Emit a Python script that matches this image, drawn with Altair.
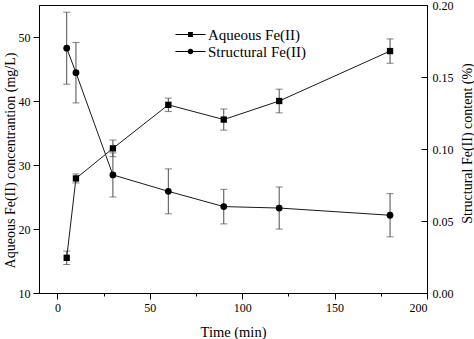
import altair as alt
import pandas as pd

# ---- data ----
time = [5, 10, 30, 60, 90, 120, 180]
aqueous = [15.5, 27.9, 32.6, 39.4, 37.1, 40.0, 47.8]
aqueous_err = [1.05, 0.7, 1.3, 1.05, 1.65, 1.85, 1.9]
structural = [0.170, 0.153, 0.082, 0.0706, 0.060, 0.059, 0.054]
structural_err = [0.025, 0.021, 0.0153, 0.0156, 0.012, 0.0146, 0.015]
series = ["Aqueous Fe(II)", "Structural Fe(II)"]

x_ticks = [0, 25, 50, 75, 100, 125, 150, 175, 200]
left_ticks = [10, 15, 20, 25, 30, 35, 40, 45, 50, 55]
right_ticks = [0, 0.025, 0.05, 0.075, 0.1, 0.125, 0.15, 0.175, 0.2]

df = pd.DataFrame({"t": time, "aq": aqueous, "aq_e": aqueous_err,
                   "st": structural, "st_e": structural_err})
df["aq_lo"] = df["aq"] - df["aq_e"]
df["aq_hi"] = df["aq"] + df["aq_e"]
df["st_lo"] = df["st"] - df["st_e"]
df["st_hi"] = df["st"] + df["st_e"]

leg_df = pd.DataFrame({"series": series, "t": [time[0]] * 2, "aq": [aqueous[0]] * 2})

FONT = "Liberation Serif"
LINE = "#1a1a1a"
ERR = "#4d4d4d"

# legend glyphs: thin bar (line) + marker, all as filled areas
sq_path = "M-3.75,-0.13H3.75V0.13H-3.75Z M-0.6,-0.6H0.6V0.6H-0.6Z"
ci_path = "M-3.75,-0.13H3.75V0.13H-3.75Z M-0.7,0A0.7,0.7,0,1,1,0.7,0A0.7,0.7,0,1,1,-0.7,0Z"

X = alt.X("t:Q", scale=alt.Scale(domain=[-10, 200], nice=False, zero=False),
          axis=alt.Axis(values=x_ticks, title="Time (min)", titleFontWeight="normal",
                        labelExpr="datum.value % 50 === 0 ? datum.label : ''",
                        tickSize={"condition": {"test": "datum.value % 50 === 0", "value": 6}, "value": 3},
                        labelPadding=3, titlePadding=12))

lscale = alt.Scale(domain=[10, 55], nice=False, zero=False)
laxis = alt.Axis(values=left_ticks, title="Aqueous Fe(II) concentrantion (mg/L)",
                 labelExpr="datum.value % 10 === 0 ? datum.label : ''",
                 tickSize={"condition": {"test": "datum.value % 10 === 0", "value": 6}, "value": 3},
                 labelPadding=3, titlePadding=1, titleY=155)

rscale = alt.Scale(domain=[0, 0.2], nice=False, zero=False)
rtest = "abs(datum.value * 20 - round(datum.value * 20)) < 0.000001"
raxis = alt.Axis(values=right_ticks, title="Structural Fe(II) content (%)", orient="right",
                 format=".2f", labelExpr=rtest + " ? datum.label : ''",
                 tickSize={"condition": {"test": rtest, "value": -6}, "value": -2.5},
                 labelPadding=11, titlePadding=21, titleAngle=270, titleY=138)

base = alt.Chart(df)

left = alt.layer(
    base.mark_line(color=LINE, strokeWidth=1).encode(x=X, y=alt.Y("aq:Q", scale=lscale, axis=laxis)),
    base.mark_rule(color=ERR, strokeWidth=1).encode(x="t:Q", y="aq_lo:Q", y2="aq_hi:Q"),
    base.mark_tick(color=ERR, orient="horizontal", size=7, thickness=1).encode(x="t:Q", y="aq_lo:Q"),
    base.mark_tick(color=ERR, orient="horizontal", size=7, thickness=1).encode(x="t:Q", y="aq_hi:Q"),
    base.mark_point(shape="square", filled=True, size=40, color="black", opacity=1).encode(x="t:Q", y="aq:Q"),
    alt.Chart(leg_df).mark_point(filled=True, size=64, color="black", opacity=0).encode(
        x="t:Q", y="aq:Q",
        shape=alt.Shape("series:N", scale=alt.Scale(domain=series, range=[sq_path, ci_path]),
                        legend=alt.Legend(title=None, orient="none", legendX=144, legendY=22,
                                          symbolSize=64, symbolOpacity=1,
                                          symbolFillColor="black", symbolStrokeColor="black",
                                          symbolStrokeWidth=0, labelFontSize=15, labelFont=FONT,
                                          labelColor="black", labelOffset=10, rowPadding=1,
                                          padding=0)),
    ),
)

right = alt.layer(
    base.mark_line(color=LINE, strokeWidth=1).encode(x="t:Q", y=alt.Y("st:Q", scale=rscale, axis=raxis)),
    base.mark_rule(color=ERR, strokeWidth=1).encode(x="t:Q", y="st_lo:Q", y2="st_hi:Q"),
    base.mark_tick(color=ERR, orient="horizontal", size=7, thickness=1).encode(x="t:Q", y="st_lo:Q"),
    base.mark_tick(color=ERR, orient="horizontal", size=7, thickness=1).encode(x="t:Q", y="st_hi:Q"),
    base.mark_point(shape="circle", filled=True, size=46, color="black", opacity=1).encode(x="t:Q", y="st:Q"),
)

chart = alt.layer(left, right).resolve_scale(y="independent").properties(
    width=388, height=288,
    padding={"left": 39, "top": 5, "right": 47, "bottom": 46},
    autosize="none",
    background="white",
).configure_view(stroke="black", strokeWidth=1).configure_axis(
    labelFont=FONT, titleFont=FONT, labelFontSize=12, titleFontSize=14,
    labelColor="black", titleColor="black", domainColor="black", tickColor="black",
    titleFontWeight="normal", grid=False, domainWidth=1, tickWidth=1,
).configure_axisX(titleFontSize=14.5)

chart.save("out.html", embed_options={"renderer": "svg", "actions": False})
